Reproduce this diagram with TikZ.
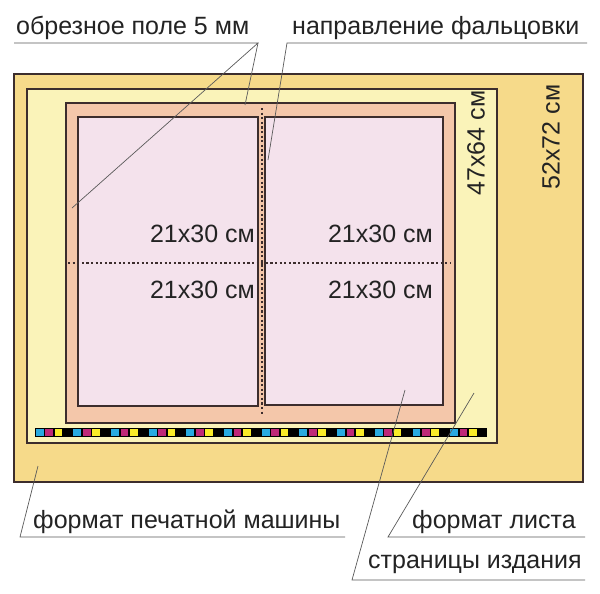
\documentclass[tikz,border=0pt]{standalone}
\usepackage{fontspec}
\setmainfont{Liberation Sans}

\definecolor{machine}{RGB}{246,218,138}
\definecolor{sheet}{RGB}{250,243,185}
\definecolor{bleed}{RGB}{244,199,170}
\definecolor{page}{RGB}{244,226,236}
\definecolor{edge}{RGB}{60,45,45}
\definecolor{ink}{RGB}{35,35,35}
\definecolor{cbcyan}{RGB}{40,170,225}
\definecolor{cbmagenta}{RGB}{190,40,120}
\definecolor{cbyellow}{RGB}{250,236,40}

\tikzset{
  frame/.style={draw=edge, line width=1.3pt},
  leader/.style={draw=ink!75, line width=0.7pt},
  lbl/.style={text=ink, font=\fontsize{25}{25}\selectfont, inner sep=0pt},
  fold/.style={draw=edge, line width=2.2pt, dash pattern=on 2.2pt off 2.4pt}
}

\begin{document}
\begin{tikzpicture}[x=1pt,y=-1pt]
\useasboundingbox (0,0) rectangle (600,594);
\fill[white] (0,0) rectangle (600,594);

% formats, from the machine down to the pages
\filldraw[frame, fill=machine] (14,74) rectangle (583,482);
\filldraw[frame, fill=sheet] (27,89) rectangle (497,443);
\filldraw[frame, fill=bleed] (66,103) rectangle (455,423);
\filldraw[frame, fill=page] (78,117) rectangle (258,406);
\filldraw[frame, fill=page] (265,117) rectangle (443,405);

\draw[fold] (262,108) -- (262,414);
\draw[fold] (68,263) -- (450,263);

% colour bar
\fill[black] (35,428) rectangle (487,437);
\foreach \i in {0,...,11}{% one group of four cells
    \foreach \c [count=\j from 0] in {cbcyan,cbmagenta,cbyellow}{%
        \fill[\c] (35+37.67*\i+9.42*\j+0.8,429) rectangle ++(7.8,7);}}

\node[lbl, anchor=base east] (pageLtop) at (255,242) {21x30 см};
\node[lbl, anchor=base east] (pageLbot) at (255,298) {21x30 см};
\node[lbl, anchor=base east] (pageRtop) at (433,242) {21x30 см};
\node[lbl, anchor=base east] (pageRbot) at (433,298) {21x30 см};

\node[lbl, rotate=90] (sheetsize) at (476,143) {47x64 см};
\node[lbl, rotate=90] (machinesize) at (551,137) {52x72 см};

% labels with their leaders
\node[lbl, anchor=base west] (bleedlbl) at (16,35) {обрезное поле 5 мм};
\coordinate (bleedstart) at (14,43);
\coordinate (bleedknee) at (258,43);
\coordinate (bleedtipA) at (72,208);
\coordinate (bleedtipB) at (245,105);
\draw[leader] (bleedstart) -- (bleedknee) -- (bleedtipA);
\draw[leader] (bleedknee) -- (bleedtipB);

\node[lbl, anchor=base west] (foldlbl) at (292,35) {направление фальцовки};
\coordinate (foldknee) at (287,43);
\coordinate (foldend) at (587,43);
\coordinate (foldtip) at (268,160);
\draw[leader] (foldend) -- (foldknee) -- (foldtip);

\node[lbl, anchor=base west] (machinelbl) at (33,528) {формат печатной машины};
\coordinate (machineknee) at (20,537);
\coordinate (machineend) at (345,537);
\coordinate (machinetip) at (38,466);
\draw[leader] (machineend) -- (machineknee) -- (machinetip);

\node[lbl, anchor=base west] (sheetlbl) at (412,528) {формат листа};
\coordinate (sheetknee) at (388,537);
\coordinate (sheetend) at (585,537);
\coordinate (sheettip) at (474,393);
\draw[leader] (sheetend) -- (sheetknee) -- (sheettip);

\node[lbl, anchor=base west] (pagelbl) at (368,568) {страницы издания};
\coordinate (pageknee) at (352,580);
\coordinate (pageend) at (585,580);
\coordinate (pagetip) at (405,390);
\draw[leader] (pageend) -- (pageknee) -- (pagetip);

\end{tikzpicture}
\end{document}
